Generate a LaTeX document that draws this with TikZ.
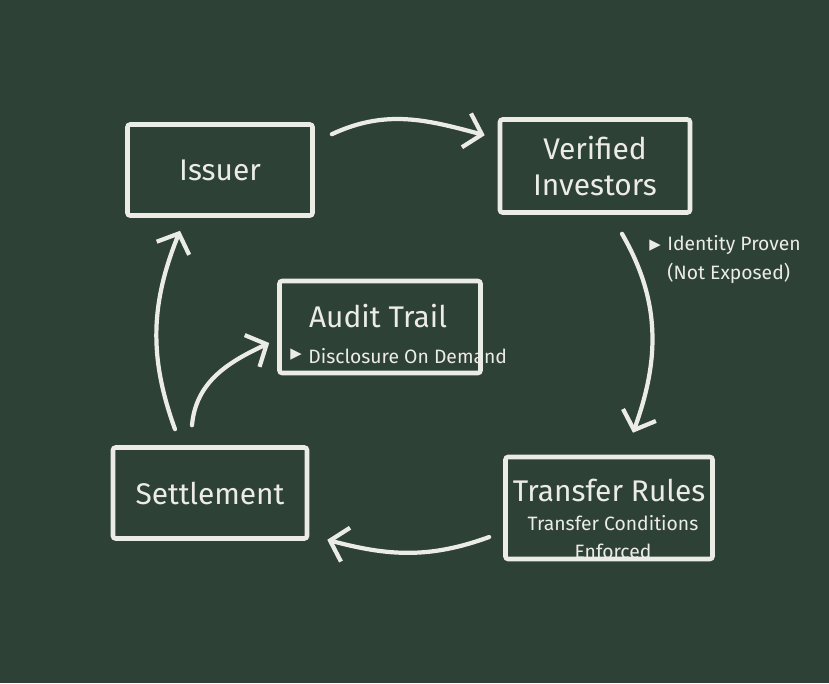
\documentclass[tikz,border=0pt]{standalone}
\usepackage{fontspec}
\setmainfont{Fira Sans}
\newfontfamily\symfont{DejaVu Sans}
\usetikzlibrary{arrows.meta}

\begin{document}
\begin{tikzpicture}[x=0.2mm, y=-0.2mm,
        chalkbox/.style={draw=chalk, line width=2.6pt, rounded corners=1.5pt, inner sep=0pt},
        boxtitle/.style={text=chalk, font=\fontsize{17}{20}\selectfont, align=center},
        boxnote/.style={text=chalk, font=\fontsize{11}{13.5}\selectfont, align=left, inner sep=0pt},
        bullet/.style={text=chalk, font=\symfont\fontsize{13}{14}\selectfont, inner sep=0pt},
        chalkarrow/.style={draw=chalk, line width=2.4pt, line cap=round, -{Straight Barb[length=3.2mm, width=7mm, line width=2.4pt]}}]
        \definecolor{boardgreen}{RGB}{46,65,54}
        \definecolor{chalk}{RGB}{236,236,230}

        % Board
        \fill[boardgreen] (0,0) rectangle (829,683);
        \useasboundingbox (0,0) rectangle (829,683);

        % Top left - Issuer
        \node[chalkbox, boxtitle, minimum width=37mm, minimum height=18.2mm] (issuer) at (220,170) {Issuer};

        % Top right - Verified Investors
        \node[chalkbox, boxtitle, minimum width=38mm, minimum height=18.6mm] (investors) at (595,166) {Verified\\[1pt]Investors};

        % Middle - Audit Trail
        \node[chalkbox, minimum width=40.2mm, minimum height=18.4mm] (audit) at (380,327) {};
        \node[boxtitle] (audittitle) at (378,316) {Audit Trail};
        \node[bullet] (auditbullet) at (296,355) {▸};
        \node[boxnote, anchor=west] (auditnote) at (308,356) {Disclosure On Demand};

        % Bottom left - Settlement
        \node[chalkbox, boxtitle, minimum width=38.8mm, minimum height=18.2mm] (settle) at (210,493) {Settlement};

        % Bottom right - Transfer Rules
        \node[chalkbox, minimum width=41.4mm, minimum height=20.4mm] (rules) at (609,508) {};
        \node[boxtitle] (rulestitle) at (609,490) {Transfer Rules};
        \node[boxnote, align=center] (rulesnote) at (613,537) {Transfer Conditions\\[2pt]Enforced};

        % Side note - identity
        \node[bullet] (idbullet) at (655,246) {▸};
        \node[boxnote, anchor=west] (idnote) at (667,260) {Identity Proven\\[3pt](Not Exposed)};

        % Cycle arrows
        \draw[chalkarrow] ([xshift=3.4mm, yshift=-2.4mm]issuer.north east) to[out=25, in=165] ([xshift=-2.6mm, yshift=-3.6mm]investors.north west);
        \draw[chalkarrow] ([xshift=5.4mm, yshift=-3.8mm]investors.south) to[out=-60, in=70] ([xshift=4.8mm, yshift=4.4mm]rules.north);
        \draw[chalkarrow] ([xshift=-2.8mm, yshift=-5.8mm]rules.west) to[out=200, in=-15] ([xshift=3.6mm, yshift=0.2mm]settle.south east);
        \draw[chalkarrow] ([xshift=-7mm, yshift=3.2mm]settle.north) to[out=110, in=248] ([xshift=-8mm, yshift=-2.6mm]issuer.south);
        \draw[chalkarrow] ([xshift=-3.6mm, yshift=4mm]settle.north) to[out=85, in=205] ([xshift=-1.6mm, yshift=-3.2mm]audit.west);
    \end{tikzpicture}
\end{document}
